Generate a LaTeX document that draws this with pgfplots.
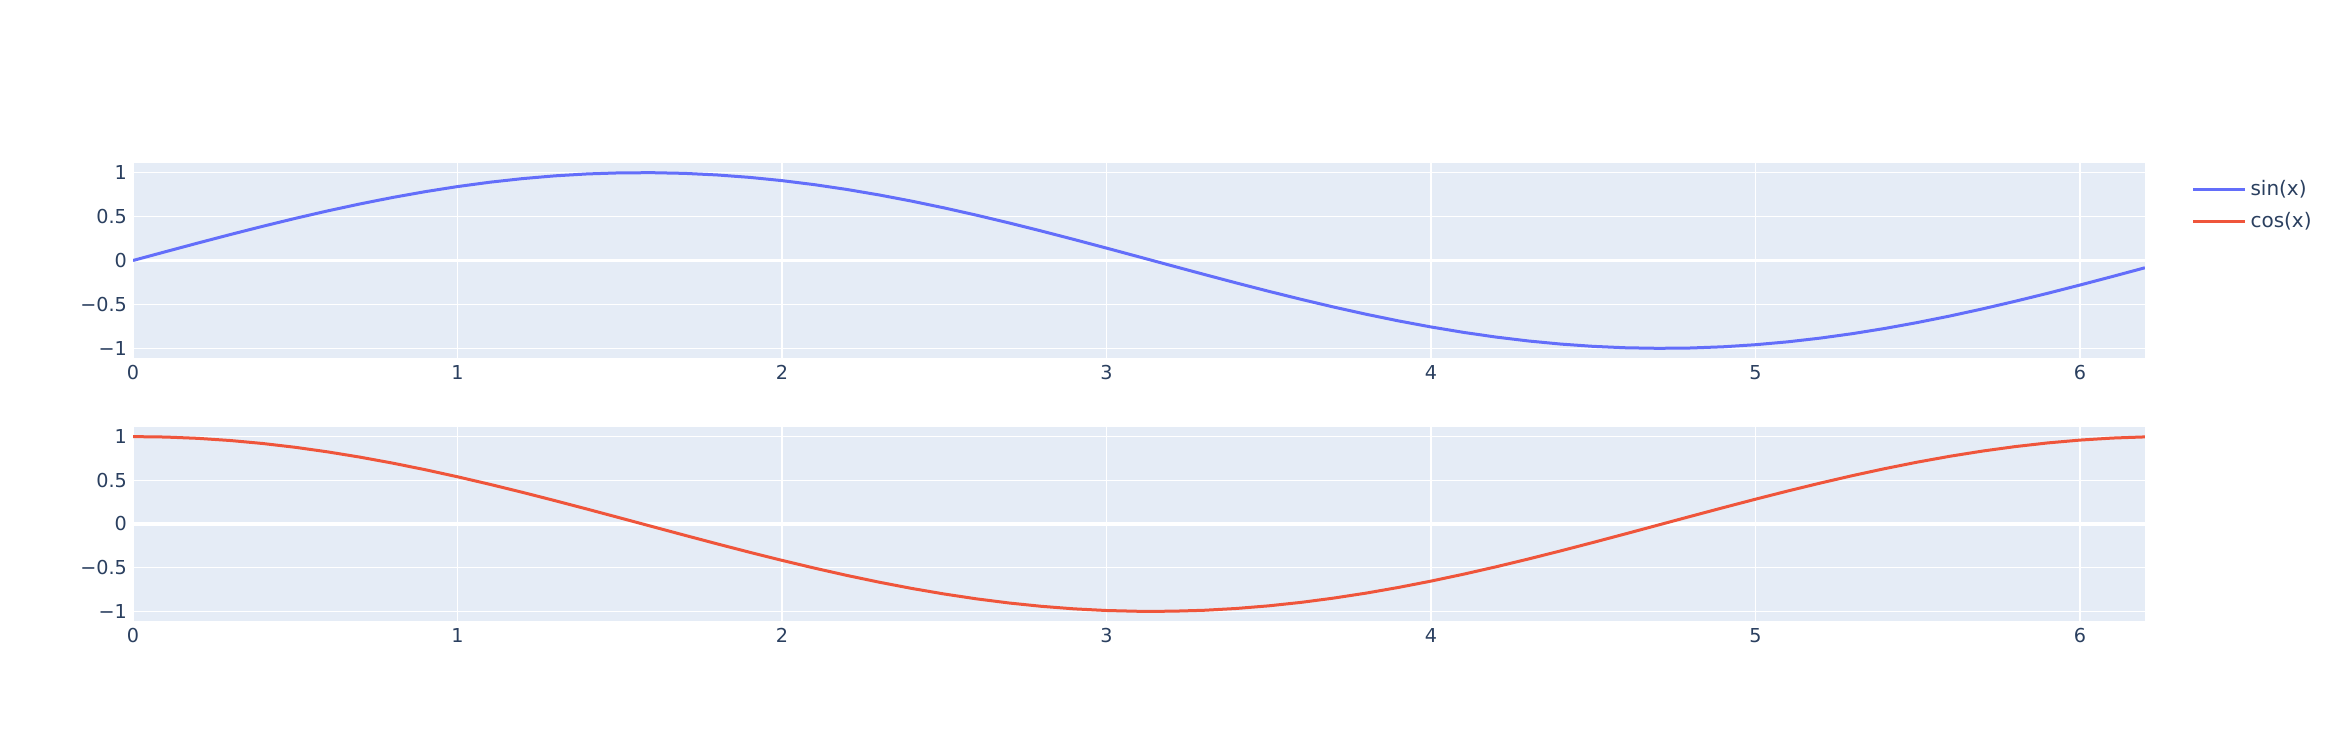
\documentclass[border=0pt]{standalone}
\usepackage{pgfplots}
\pgfplotsset{compat=1.18}
\usepackage{pgfplotstable}
\usepackage{fontspec}
\setmainfont{DejaVu Sans}

\definecolor{plotbg}{HTML}{E5ECF6}
\definecolor{fontc}{HTML}{2A3F5F}
\definecolor{sinc}{HTML}{636EFA}
\definecolor{cosc}{HTML}{EF553B}

% x, sin(x), cos(x)
\pgfplotstableread{
x sin cos
0.0 0.0000 1.0000
0.1 0.0998 0.9950
0.2 0.1987 0.9801
0.3 0.2955 0.9553
0.4 0.3894 0.9211
0.5 0.4794 0.8776
0.6 0.5646 0.8253
0.7 0.6442 0.7648
0.8 0.7174 0.6967
0.9 0.7833 0.6216
1.0 0.8415 0.5403
1.1 0.8912 0.4536
1.2 0.9320 0.3624
1.3 0.9636 0.2675
1.4 0.9854 0.1700
1.5 0.9975 0.0707
1.6 0.9996 -0.0292
1.7 0.9917 -0.1288
1.8 0.9738 -0.2272
1.9 0.9463 -0.3233
2.0 0.9093 -0.4161
2.1 0.8632 -0.5048
2.2 0.8085 -0.5885
2.3 0.7457 -0.6663
2.4 0.6755 -0.7374
2.5 0.5985 -0.8011
2.6 0.5155 -0.8569
2.7 0.4274 -0.9041
2.8 0.3350 -0.9422
2.9 0.2392 -0.9710
3.0 0.1411 -0.9900
3.1 0.0416 -0.9991
3.2 -0.0584 -0.9983
3.3 -0.1577 -0.9875
3.4 -0.2555 -0.9668
3.5 -0.3508 -0.9365
3.6 -0.4425 -0.8968
3.7 -0.5298 -0.8481
3.8 -0.6119 -0.7910
3.9 -0.6878 -0.7259
4.0 -0.7568 -0.6536
4.1 -0.8183 -0.5748
4.2 -0.8716 -0.4903
4.3 -0.9162 -0.4008
4.4 -0.9516 -0.3073
4.5 -0.9775 -0.2108
4.6 -0.9937 -0.1122
4.7 -0.9999 -0.0124
4.8 -0.9962 0.0875
4.9 -0.9825 0.1865
5.0 -0.9589 0.2837
5.1 -0.9258 0.3780
5.2 -0.8835 0.4685
5.3 -0.8323 0.5544
5.4 -0.7728 0.6347
5.5 -0.7055 0.7087
5.6 -0.6313 0.7756
5.7 -0.5507 0.8347
5.8 -0.4646 0.8855
5.9 -0.3739 0.9275
6.0 -0.2794 0.9602
6.1 -0.1822 0.9833
6.2 -0.0831 0.9965
}\trig

\pgfplotsset{
  plotlystyle/.style={
    scale only axis,
    width=1006pt, height=97.5pt,
    xmin=0, xmax=6.2, ymin=-1.11, ymax=1.11,
    axis background/.style={fill=plotbg},
    axis line style={draw=none},
    major tick length=0pt,
    grid=major,
    major grid style={white, line width=0.8pt},
    xtick={0,1,2,3,4,5,6},
    ytick={-1,-0.5,0,0.5,1},
    yticklabels={−1,−0.5,0,0.5,1},
    xticklabels={0,1,2,3,4,5,6},
    ticklabel style={font=\fontsize{9.6}{11}\selectfont, text=fontc},
    yticklabel style={xshift=0.5pt},
    clip=true,
    extra y ticks={0},
    extra y tick labels={},
    extra y tick style={grid=major, major grid style={white, line width=1.6pt}},
  },
}

\begin{document}
\begin{tikzpicture}
\path[use as bounding box] (0,0) rectangle (1170.5pt,374.5pt);

\begin{axis}[plotlystyle,
  at={(66.5pt,195.5pt)}, anchor=south west,
  legend style={at={(1.02,0.955)}, anchor=north west, draw=none, fill=none,
    font=\fontsize{10}{12}\selectfont, text=fontc,
    row sep=3pt,
    cells={anchor=west, inner ysep=2.5pt}},
  legend image code/.code={\draw[#1] (0pt,0pt) -- (26pt,0pt);},
]
\addplot[sinc, line width=1.5pt] table[x=x, y=sin] {\trig};
\addlegendentry{sin(x)}
\addlegendimage{cosc, line width=1.5pt}
\addlegendentry{cos(x)}
\end{axis}

\begin{axis}[plotlystyle,
  height=97pt,
  at={(66.5pt,64pt)}, anchor=south west,
]
\addplot[cosc, line width=1.5pt] table[x=x, y=cos] {\trig};
\end{axis}
\end{tikzpicture}
\end{document}
